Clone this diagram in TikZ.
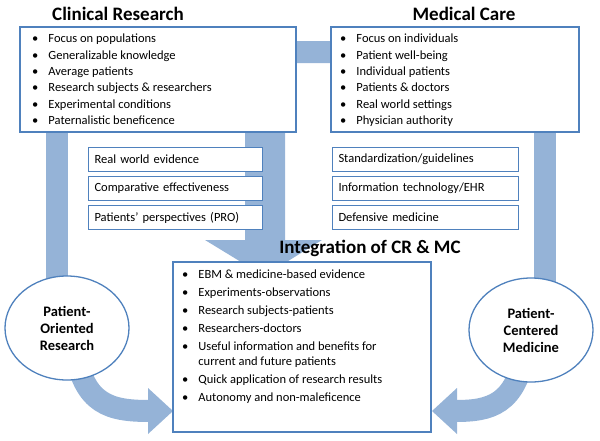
\documentclass[tikz,border=0pt]{standalone}
\usepackage{fontspec}
\setmainfont{Carlito}
\usetikzlibrary{shapes.geometric}
\definecolor{bord}{HTML}{4F81BD}
\definecolor{lb}{HTML}{95B3D7}
\tikzset{
 box/.style={draw=bord,line width=1.2pt,fill=white,inner sep=0pt},
 sbox/.style={draw=bord,line width=1pt,fill=white,minimum height=24pt,anchor=north west,inner xsep=6pt,align=left,font=\fontsize{12.5}{14}\selectfont},
 ttl/.style={font=\bfseries\fontsize{19}{22}\selectfont},
 ell/.style={draw=bord,line width=1.3pt,fill=white,ellipse,minimum width=124pt,minimum height=104pt,font=\bfseries\fontsize{14.5}{17}\selectfont,align=center},
 lst/.style={anchor=north west,align=left,font=\fontsize{12.5}{16.4}\selectfont,inner sep=0pt}
}
\begin{document}
\begin{tikzpicture}[x=1pt,y=-1pt]
\useasboundingbox (0,0) rectangle (600,440);
\fill[lb] (190,41)--(425,41)--(425,63)--(285,63)--(285,240)--(322,240)--(264,276)--(205,240)--(245,240)--(245,63)--(190,63)--cycle;
\fill[lb] (46,132) rectangle (68,300);
\fill[lb] (534,132) rectangle (556,300);
\draw[lb,line width=22pt] (75,350) .. controls (84,405) and (110,411) .. (150,411);
\fill[lb] (148,388)--(148,434)--(173,411)--cycle;
\draw[lb,line width=22pt] (525,350) .. controls (516,405) and (490,411) .. (455,411);
\fill[lb] (457,388)--(457,434)--(432,411)--cycle;
\node[ttl] (t1) at (118,14) {Clinical Research};
\node[ttl] (t2) at (464,14) {Medical Care};
\node[ttl] (t3) at (370,248) {Integration of CR \& MC};
\draw[box] (20,27) rectangle (296,132);
\node[lst] (l1) at (32,31) {\begin{tabular}{@{}l@{\hspace{10pt}}l@{}}
\textbullet & Focus on populations\\
\textbullet & Generalizable knowledge\\
\textbullet & Average patients\\
\textbullet & Research subjects \& researchers\\
\textbullet & Experimental conditions\\
\textbullet & Paternalistic beneficence\end{tabular}};
\draw[box] (331,27) rectangle (579,132);
\node[lst] (l2) at (340,31) {\begin{tabular}{@{}l@{\hspace{10pt}}l@{}}
\textbullet & Focus on individuals\\
\textbullet & Patient well-being\\
\textbullet & Individual patients\\
\textbullet & Patients \& doctors\\
\textbullet & Real world settings\\
\textbullet & Physician authority\end{tabular}};
\node[sbox,text width=162pt] (s1) at (88,147) {Real world evidence};
\node[sbox,text width=162pt] (s2) at (88,176) {Comparative effectiveness};
\node[sbox,text width=162pt] (s3) at (88,205) {Patients’ perspectives (PRO)};
\node[sbox,text width=174pt] (s4) at (332,147) {Standardization/guidelines};
\node[sbox,text width=174pt] (s5) at (332,176) {Information technology/EHR};
\node[sbox,text width=174pt] (s6) at (332,205) {Defensive medicine};
\node[ell] (e1) at (67,328) {Patient-\\Oriented\\Research};
\node[ell] (e2) at (531,330) {Patient-\\Centered\\Medicine};
\draw[box] (173,262) rectangle (431,432);
\node[lst,font=\fontsize{12.5}{18}\selectfont] (l3) at (182,266) {\begin{tabular}{@{}l@{\hspace{10pt}}l@{}}
\textbullet & EBM \& medicine-based evidence\\
\textbullet & Experiments-observations\\
\textbullet & Research subjects-patients\\
\textbullet & Researchers-doctors\\
\textbullet & Useful information and benefits for\\[-3pt]
 & current and future patients\\
\textbullet & Quick application of research results\\
\textbullet & Autonomy and non-maleficence\end{tabular}};
\end{tikzpicture}
\end{document}
